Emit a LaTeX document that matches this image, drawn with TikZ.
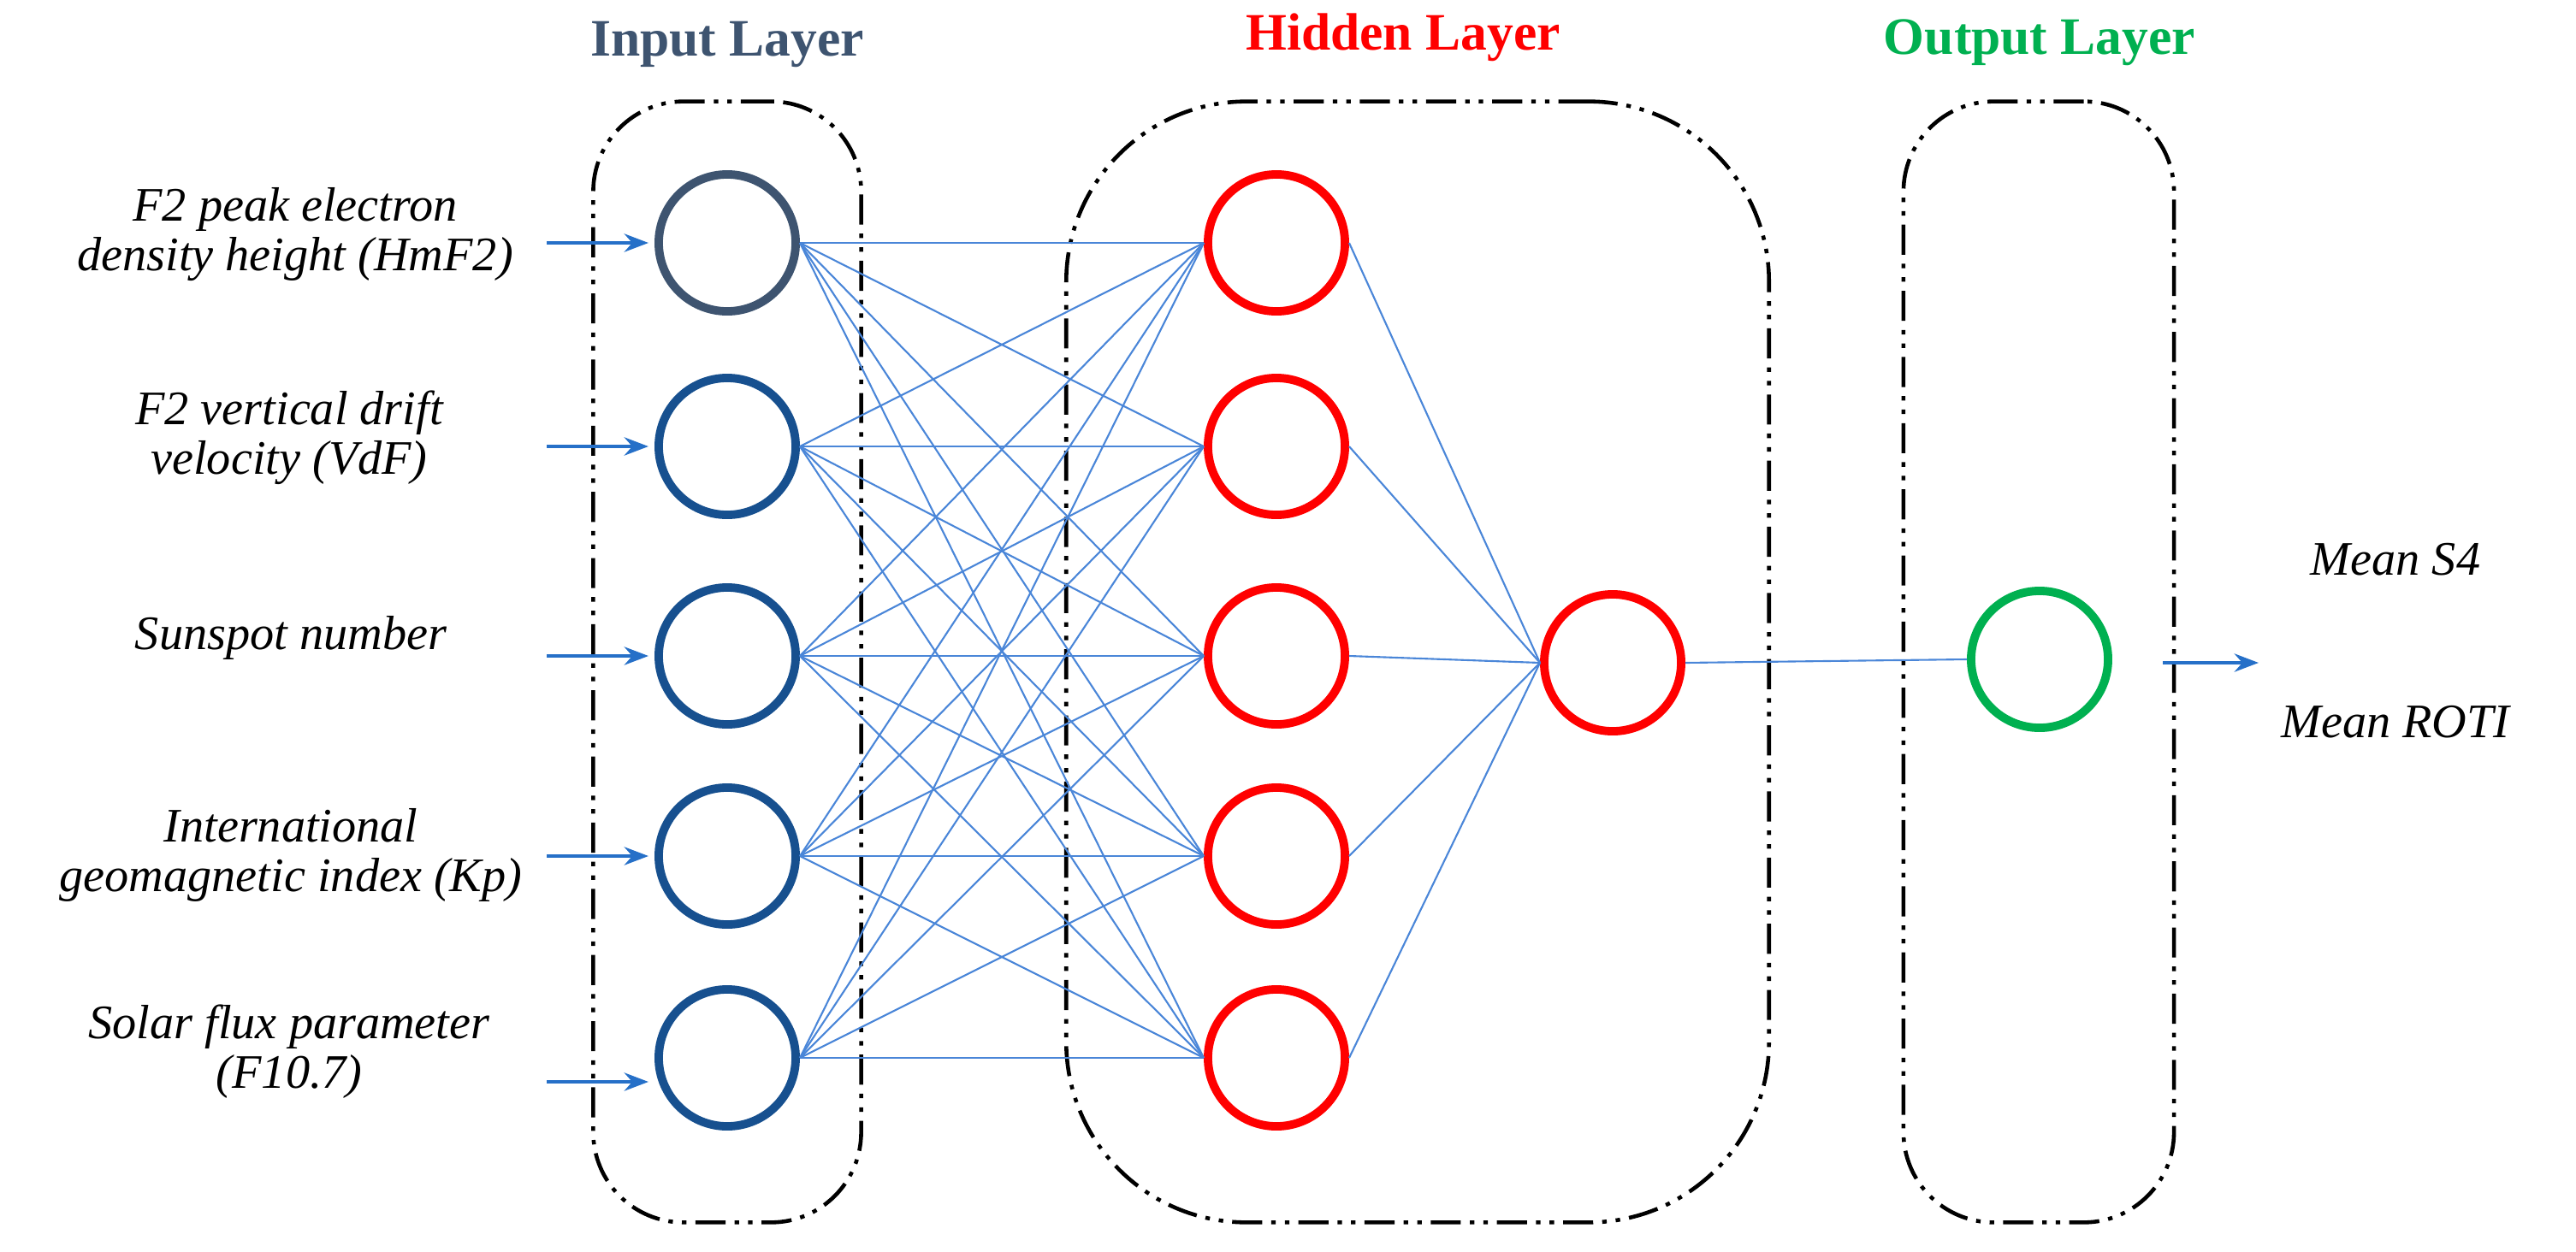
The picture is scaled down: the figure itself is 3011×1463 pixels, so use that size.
\documentclass[tikz,border=0pt]{standalone}
\usepackage{fontspec}
\setmainfont{Liberation Serif}
\definecolor{inblue}{HTML}{17508F}
\definecolor{ingray}{HTML}{3E5470}
\definecolor{link}{HTML}{4A86D8}
\definecolor{arr}{HTML}{2670C8}
\definecolor{outgreen}{HTML}{00B050}
\definecolor{titlegray}{HTML}{3E5470}
\usetikzlibrary{arrows.meta}
\begin{document}
\begin{tikzpicture}[x=0.01cm,y=-0.01cm,
  neuron/.style={circle,draw,line width=2.8pt,minimum size=1.6cm,inner sep=0pt},
  box/.style={draw,line width=1.3pt,rounded corners=30pt,dash pattern=on 10pt off 3pt on 1.5pt off 3pt on 1.5pt off 3pt},
  lnk/.style={draw=link,line width=0.6pt},
  inarr/.style={draw=arr,line width=1.3pt,-{Stealth[length=8pt,width=6pt]}},
  lab/.style={font=\fontsize{16}{16.5}\selectfont\itshape,align=center},
  ttl/.style={font=\fontsize{17.5}{20}\selectfont\bfseries}]
\useasboundingbox (0,0) rectangle (3011,1463);
\node[box,minimum width=3.13cm,minimum height=13.1cm] (bin) at (850,774) {};
\node[box,minimum width=8.21cm,minimum height=13.1cm,rounded corners=60pt] (bhid) at (1657,774) {};
\node[box,minimum width=3.16cm,minimum height=13.1cm] (bout) at (2383,774) {};
\node[ttl,text=titlegray] (tin) at (850,52) {Input Layer};
\node[ttl,text=red] (thid) at (1640,44) {Hidden Layer};
\node[ttl,text=outgreen] (tout) at (2384,50) {Output Layer};
\node[neuron,draw=ingray] (i1) at (850,284) {};
\foreach \n/\y in {2/522,3/767,4/1001,5/1237}{\node[neuron,draw=inblue] (i\n) at (850,\y) {};}
\foreach \n/\y in {1/284,2/522,3/767,4/1001,5/1237}{\node[neuron,draw=red] (h\n) at (1492,\y) {};}
\node[neuron,draw=red] (m) at (1885,775) {};
\node[neuron,draw=outgreen] (o) at (2384,771) {};
\foreach \a in {1,...,5}{\foreach \b in {1,...,5}{\draw[lnk] (i\a.east) -- (h\b.west);}}
\foreach \b in {1,...,5}{\draw[lnk] (h\b.east) -- (m.west);}
\draw[lnk] (m.east) -- (o.west);
\node[lab] (l1) at (345,274) {F2 peak electron\\density height (HmF2)};
\node[lab] (l2) at (338,512) {F2 vertical drift\\velocity (VdF)};
\node[lab] (l3) at (340,746) {Sunspot number};
\node[lab] (l4) at (340,1000) {International\\geomagnetic index (Kp)};
\node[lab] (l5) at (338,1230) {Solar flux parameter\\(F10.7)};
\foreach \n/\y in {1/284,2/522,3/767,4/1001,5/1265}{\coordinate (s\n) at (639,\y); \coordinate (e\n) at (758,\y); \draw[inarr] (s\n) -- (e\n);}
\coordinate (os) at (2528,775); \coordinate (oe) at (2640,775);
\draw[inarr] (os) -- (oe);
\node[lab] (r1) at (2800,654) {Mean S4};
\node[lab] (r2) at (2800,844) {Mean ROTI};
\end{tikzpicture}
\end{document}
